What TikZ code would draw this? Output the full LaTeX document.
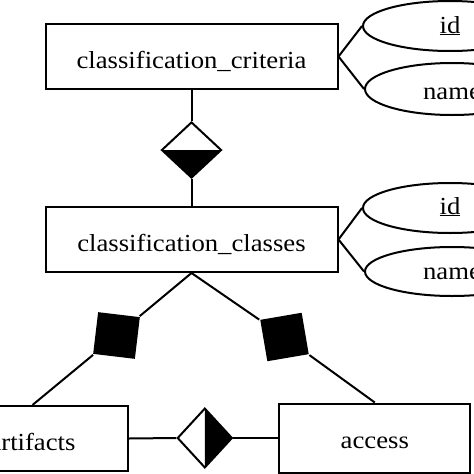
\documentclass[tikz,border=0pt]{standalone}
\usepackage{fontspec}
\setmainfont{Liberation Serif}[FakeStretch=1.09]
\usetikzlibrary{shapes.geometric}
\begin{document}
\begin{tikzpicture}[x=1pt,y=-1pt,line width=2pt,
  every node/.style={font=\fontsize{24.5}{28}\selectfont,text depth=0pt},
  entity/.style={draw,rectangle,minimum width=292pt,minimum height=65pt,inner sep=0pt},
  attr/.style={draw,ellipse,minimum width=174pt,minimum height=50pt,inner sep=0pt},
  relbottom/.style={draw,diamond,inner sep=0pt,minimum width=60pt,minimum height=56pt,
    path picture={\fill (path picture bounding box.west) -- (path picture bounding box.east) -- (path picture bounding box.south) -- cycle;}},
  relright/.style={draw,diamond,inner sep=0pt,minimum width=55pt,minimum height=60pt,
    path picture={\fill (path picture bounding box.north) -- (path picture bounding box.south) -- (path picture bounding box.east) -- cycle;}},
  blacksq/.style={fill=black,rectangle,inner sep=0pt,minimum size=42pt}]
\clip (0,0) rectangle (474,474);
\useasboundingbox (0,0) rectangle (474,474);
% entities
\node[entity,text height=23pt] (cc) at (191.5,56.5) {classification\_criteria};
\node[entity,text height=24.4pt] (cl) at (191.5,239.5) {classification\_classes};
\node[entity,minimum width=191pt,text height=23pt] (art) at (32.5,438.5) {artifacts};
\node[entity,minimum width=191pt,minimum height=69pt,text height=20.6pt] (acc) at (374.8,438) {access};
% attributes
\node[attr,text height=14pt] (id1) at (450,26) {\underline{id}};
\node[attr,minimum height=52pt,text height=20pt] (nm1) at (452,89) {name};
\node[attr,text height=12pt] (id2) at (450,208) {\underline{id}};
\node[attr,minimum height=49pt,text height=16pt] (nm2) at (452,271.5) {name};
% relationships
\node[relbottom] (d1) at (191.5,150) {};
\node[relright,minimum height=59.7pt] (d2) at (204.8,438) {};
\node[blacksq,rotate=-6.8] (s1) at (116.5,335.5) {};
\node[blacksq,rotate=9.7] (s2) at (284.5,337) {};
% connectors
\draw (cc.east) -- (id1.west);
\draw (cc.east) -- (nm1.west);
\draw (cl.east) -- (id2.west);
\draw (cl.east) -- (nm2.west);
\draw (cc.south) -- (d1.north);
\draw (d1.south) -- (cl.north);
\draw (cl.south) -- (s1) -- (art.north);
\draw (cl.south) -- (s2) -- (acc.north);
\draw (art.east) -- (d2.west);
\draw (d2.east) -- (acc.west);
\end{tikzpicture}
\end{document}
